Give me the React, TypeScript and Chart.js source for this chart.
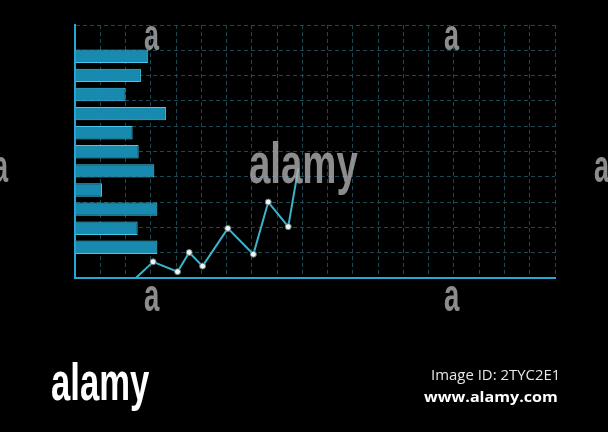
import React, { useEffect, useRef } from "react";
import { Chart, registerables } from "chart.js";

Chart.register(...registerables);

// ---- data ----
const barPositions = [11, 10, 9, 8, 7, 6, 5, 4, 3, 2, 1];
const barValues = [2.9, 2.61, 2.0, 3.6, 2.28, 2.52, 3.14, 1.07, 3.26, 2.48, 3.26];

const lineX = [2.41, 3.09, 4.06, 4.52, 5.05, 6.05, 7.06, 7.65, 8.44, 8.84];
const lineY = [0, 0.64, 0.25, 1.01, 0.47, 1.96, 0.94, 3.0, 2.03, 4.33];
const lineMarkers = [false, true, true, true, true, true, true, true, true, false];

const gridColumns = 19;
const gridRows = 10;
const barAxisMin = -0.607;
const barAxisMax = 12.639;

// ---- styles ----
const gridColor = "#1d4752";
const axisColor = "#27a7d6";
const barFill = "rgb(24,138,175)";
const barEdge = "rgb(70,200,232)";
const lineColor = "#3ab4ca";

type Mark = {
  text: string;
  left: number;
  baseline: number;
  width: number;
  size: number;
  weight: number;
  family: string;
  color: string;
};

const logoFamily = "'Liberation Sans', Arial, sans-serif";
const captionFamily = "'Open Sans', 'Noto Sans', sans-serif";
const wmGray = "rgba(175,175,175,0.8)";

const marks: Mark[] = [
  { text: "a", left: 145, baseline: 50, width: 15, size: 45, weight: 700, family: logoFamily, color: wmGray },
  { text: "a", left: 445, baseline: 50, width: 15, size: 45, weight: 700, family: logoFamily, color: wmGray },
  { text: "a", left: -6, baseline: 182, width: 15, size: 47, weight: 700, family: logoFamily, color: wmGray },
  { text: "a", left: 595, baseline: 182, width: 15, size: 47, weight: 700, family: logoFamily, color: wmGray },
  { text: "a", left: 145, baseline: 311, width: 15, size: 46, weight: 700, family: logoFamily, color: wmGray },
  { text: "a", left: 445, baseline: 311, width: 15, size: 46, weight: 700, family: logoFamily, color: wmGray },
  { text: "alamy", left: 250, baseline: 183, width: 108, size: 58, weight: 700, family: logoFamily, color: wmGray },
  { text: "alamy", left: 52, baseline: 400, width: 98, size: 51, weight: 700, family: logoFamily, color: "#ffffff" },
  { text: "Image ID: 2TYC2E1", left: 432, baseline: 380, width: 125, size: 14, weight: 400, family: captionFamily, color: "#e6e6e6" },
  { text: "www.alamy.com", left: 424, baseline: 402, width: 133, size: 15, weight: 700, family: captionFamily, color: "#ffffff" },
];

let measureCtx: CanvasRenderingContext2D | null = null;
function getCtx() {
  if (!measureCtx && typeof document !== "undefined") {
    measureCtx = document.createElement("canvas").getContext("2d");
  }
  return measureCtx;
}

function Label({ m }: { m: Mark }) {
  const font = `${m.weight} ${m.size}px ${m.family}`;
  let sx = 1;
  let baseOff = m.size * 0.85;
  let inkLeft = 0;
  const ctx = getCtx();
  if (ctx) {
    ctx.font = font;
    const t = ctx.measureText(m.text);
    const w = t.actualBoundingBoxLeft + t.actualBoundingBoxRight;
    if (w > 0) sx = m.width / w;
    const A = t.fontBoundingBoxAscent ?? m.size * 0.9;
    const D = t.fontBoundingBoxDescent ?? m.size * 0.2;
    baseOff = m.size / 2 + (A - D) / 2;
    inkLeft = -t.actualBoundingBoxLeft;
  }
  return (
    <span
      style={{
        position: "absolute",
        left: m.left - inkLeft * sx,
        top: m.baseline - baseOff,
        font,
        lineHeight: `${m.size}px`,
        color: m.color,
        whiteSpace: "nowrap",
        transform: `scaleX(${sx})`,
        transformOrigin: "left top",
        pointerEvents: "none",
      }}
    >
      {m.text}
    </span>
  );
}

export default function App() {
  const ref = useRef<HTMLCanvasElement>(null);

  useEffect(() => {
    document.body.style.margin = "0";
    document.body.style.background = "#000";
    const canvas = ref.current;
    if (!canvas) return;

    const gridOpts = { color: gridColor, lineWidth: 1, drawTicks: false };
    const borderOpts = { display: true, color: axisColor, width: 2, dash: [4, 3] };

    const chart = new Chart(canvas, {
      type: "line",
      data: {
        datasets: [
          {
            type: "line",
            data: lineX.map((x, i) => ({ x, y: lineY[i] })),
            xAxisID: "x",
            yAxisID: "y",
            borderColor: lineColor,
            borderWidth: 2,
            tension: 0,
            pointRadius: lineMarkers.map((m) => (m ? 3 : 0)),
            pointBackgroundColor: "#eef6f6",
            pointBorderColor: "#5d7880",
            pointBorderWidth: 1,
          } as any,
          {
            type: "bar",
            indexAxis: "y",
            data: barPositions.map((p, i) => ({ x: barValues[i], y: p })),
            xAxisID: "x",
            yAxisID: "yb",
            backgroundColor: barFill,
            borderColor: barEdge,
            borderWidth: 1,
            barPercentage: 0.7,
            categoryPercentage: 1,
          } as any,
        ],
      },
      options: {
        responsive: false,
        animation: false,
        layout: { padding: { left: 75, top: 25, right: 53, bottom: 154 } },
        plugins: { legend: { display: false }, tooltip: { enabled: false } },
        scales: {
          x: {
            type: "linear",
            position: "bottom",
            offset: false,
            min: 0,
            max: gridColumns,
            ticks: { display: false, stepSize: 1 },
            grid: { ...gridOpts, offset: false },
            border: borderOpts,
          },
          y: {
            type: "linear",
            position: "left",
            offset: false,
            min: 0,
            max: gridRows,
            ticks: { display: false, stepSize: 1 },
            grid: { ...gridOpts, offset: false },
            border: borderOpts,
          },
          yb: {
            type: "linear",
            display: false,
            offset: false,
            min: barAxisMin,
            max: barAxisMax,
            grid: { offset: false },
          },
        },
      } as any,
    });
    return () => chart.destroy();
  }, []);

  return (
    <div
      style={{
        position: "fixed",
        left: 0,
        top: 0,
        width: 608,
        height: 432,
        background: "#000",
        overflow: "hidden",
      }}
    >
      <canvas ref={ref} width={608} height={432} style={{ position: "absolute", left: 0, top: 0 }} />
      {marks.map((m, i) => (
        <Label key={i} m={m} />
      ))}
    </div>
  );
}
